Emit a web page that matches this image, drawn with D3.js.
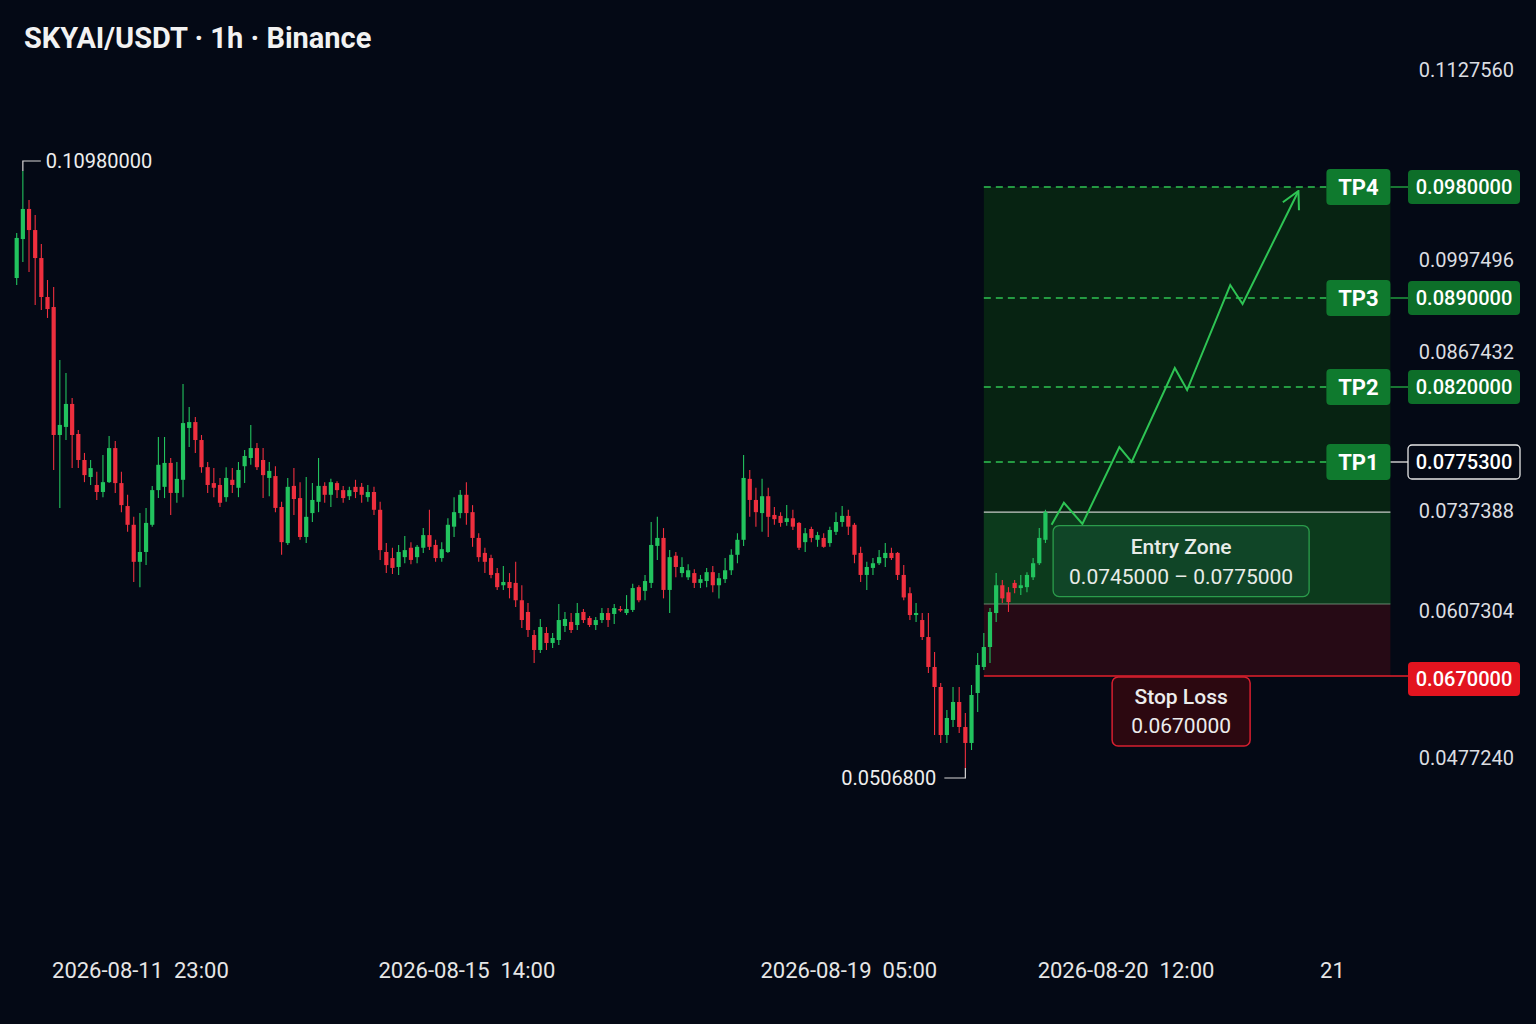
<!DOCTYPE html>
<html>
<head>
<meta charset="utf-8">
<script src="https://cdn.jsdelivr.net/npm/d3@7"></script>
<style>
    html, body { margin: 0; background: #040915; }
    svg { display: block; font-family: Roboto, "Noto Sans", sans-serif; }
</style>
</head>
<body>
<svg id="chart" width="1536" height="1024"></svg>
<script>
// hourly candles, [open, high, low, close]
const ohlc = [
    [0.09062, 0.09427, 0.09005, 0.09387], [0.09378, 0.1098, 0.09192, 0.09622], [0.09622, 0.09695, 0.09111, 0.09451], [0.09451, 0.09573, 0.08845, 0.09224],
    [0.09224, 0.09338, 0.08806, 0.08908], [0.08908, 0.09046, 0.08743, 0.08813], [0.08829, 0.08989, 0.07736, 0.07914], [0.07914, 0.08412, 0.07655, 0.07974],
    [0.07962, 0.08310, 0.07884, 0.08099], [0.08099, 0.08134, 0.07740, 0.07914], [0.07920, 0.07944, 0.07740, 0.07765], [0.07765, 0.07807, 0.07710, 0.07725],
    [0.07721, 0.07765, 0.07704, 0.07740], [0.07704, 0.07732, 0.07672, 0.07689], [0.07689, 0.07795, 0.07678, 0.07710], [0.07710, 0.07908, 0.07708, 0.07836],
    [0.07836, 0.07878, 0.07687, 0.07708], [0.07708, 0.07732, 0.07646, 0.07661], [0.07659, 0.07683, 0.07604, 0.07619], [0.07619, 0.07636, 0.07497, 0.07540],
    [0.07540, 0.07644, 0.07486, 0.07561], [0.07561, 0.07655, 0.07533, 0.07623], [0.07619, 0.07702, 0.07615, 0.07693], [0.07693, 0.07902, 0.07676, 0.07747],
    [0.07700, 0.07902, 0.07676, 0.07751], [0.07751, 0.07777, 0.07640, 0.07687], [0.07687, 0.07753, 0.07666, 0.07717], [0.07715, 0.08224, 0.07678, 0.07985],
    [0.07956, 0.08081, 0.07842, 0.07991], [0.07991, 0.08021, 0.07807, 0.07884], [0.07884, 0.07914, 0.07730, 0.07742], [0.07742, 0.07753, 0.07687, 0.07704],
    [0.07708, 0.07740, 0.07678, 0.07698], [0.07704, 0.07719, 0.07657, 0.07666], [0.07678, 0.07742, 0.07668, 0.07719], [0.07715, 0.07740, 0.07687, 0.07704],
    [0.07698, 0.07753, 0.07678, 0.07736], [0.07744, 0.07825, 0.07708, 0.07789], [0.07777, 0.07974, 0.07747, 0.07836], [0.07836, 0.07866, 0.07736, 0.07742],
    [0.07765, 0.07836, 0.07676, 0.07725], [0.07719, 0.07753, 0.07680, 0.07734], [0.07723, 0.07744, 0.07646, 0.07655], [0.07657, 0.07668, 0.07555, 0.07582],
    [0.07580, 0.07719, 0.07576, 0.07700], [0.07702, 0.07740, 0.07640, 0.07674], [0.07676, 0.07710, 0.07587, 0.07593], [0.07593, 0.07721, 0.07580, 0.07636],
    [0.07644, 0.07708, 0.07625, 0.07672], [0.07668, 0.07777, 0.07646, 0.07702], [0.07702, 0.07710, 0.07666, 0.07683], [0.07683, 0.07717, 0.07657, 0.07710],
    [0.07708, 0.07712, 0.07676, 0.07693], [0.07693, 0.07702, 0.07666, 0.07676], [0.07680, 0.07700, 0.07672, 0.07693], [0.07700, 0.07715, 0.07676, 0.07689],
    [0.07700, 0.07708, 0.07666, 0.07683], [0.07678, 0.07704, 0.07668, 0.07689], [0.07689, 0.07700, 0.07640, 0.07651], [0.07651, 0.07668, 0.07544, 0.07565],
    [0.07561, 0.07580, 0.07516, 0.07533], [0.07548, 0.07570, 0.07514, 0.07527], [0.07529, 0.07576, 0.07512, 0.07561], [0.07550, 0.07595, 0.07537, 0.07565],
    [0.07570, 0.07582, 0.07535, 0.07544], [0.07550, 0.07576, 0.07537, 0.07572], [0.07570, 0.07612, 0.07559, 0.07597], [0.07597, 0.07651, 0.07565, 0.07572],
    [0.07576, 0.07587, 0.07540, 0.07548], [0.07548, 0.07582, 0.07540, 0.07567], [0.07561, 0.07633, 0.07559, 0.07619], [0.07615, 0.07678, 0.07593, 0.07646],
    [0.07644, 0.07693, 0.07633, 0.07683], [0.07683, 0.07710, 0.07619, 0.07644], [0.07646, 0.07661, 0.07572, 0.07591], [0.07591, 0.07601, 0.07540, 0.07550],
    [0.07559, 0.07570, 0.07516, 0.07540], [0.07548, 0.07555, 0.07505, 0.07512], [0.07516, 0.07527, 0.07480, 0.07486], [0.07490, 0.07531, 0.07480, 0.07497],
    [0.07497, 0.07516, 0.07462, 0.07484], [0.07495, 0.07540, 0.07419, 0.07458], [0.07458, 0.07490, 0.07200, 0.07283], [0.07367, 0.07452, 0.07106, 0.07179],
    [0.07127, 0.07179, 0.06835, 0.06971], [0.06971, 0.07294, 0.06940, 0.07210], [0.07148, 0.07210, 0.06971, 0.07044], [0.07044, 0.07148, 0.06992, 0.07096],
    [0.07075, 0.07450, 0.07023, 0.07283], [0.07221, 0.07367, 0.07158, 0.07294], [0.07263, 0.07356, 0.07148, 0.07179], [0.07231, 0.07452, 0.07179, 0.07356],
    [0.07367, 0.07398, 0.07252, 0.07283], [0.07304, 0.07325, 0.07210, 0.07231], [0.07231, 0.07315, 0.07179, 0.07283], [0.07283, 0.07408, 0.07252, 0.07356],
    [0.07356, 0.07408, 0.07210, 0.07283], [0.07346, 0.07450, 0.07242, 0.07408], [0.07398, 0.07430, 0.07367, 0.07388], [0.07356, 0.07469, 0.07335, 0.07398],
    [0.07388, 0.07493, 0.07367, 0.07484], [0.07486, 0.07490, 0.07454, 0.07458], [0.07478, 0.07512, 0.07458, 0.07499], [0.07495, 0.07625, 0.07484, 0.07576],
    [0.07574, 0.07636, 0.07544, 0.07591], [0.07591, 0.07612, 0.07462, 0.07480], [0.07480, 0.07565, 0.07356, 0.07550], [0.07553, 0.07561, 0.07507, 0.07529],
    [0.07516, 0.07550, 0.07507, 0.07529], [0.07507, 0.07535, 0.07501, 0.07522], [0.07516, 0.07524, 0.07484, 0.07495], [0.07495, 0.07512, 0.07484, 0.07503],
    [0.07499, 0.07527, 0.07486, 0.07518], [0.07518, 0.07531, 0.07475, 0.07490], [0.07490, 0.07516, 0.07462, 0.07505], [0.07503, 0.07548, 0.07495, 0.07522],
    [0.07522, 0.07567, 0.07512, 0.07555], [0.07555, 0.07601, 0.07537, 0.07587], [0.07587, 0.07795, 0.07574, 0.07719], [0.07717, 0.07736, 0.07636, 0.07672],
    [0.07672, 0.07698, 0.07615, 0.07646], [0.07644, 0.07717, 0.07604, 0.07680], [0.07680, 0.07698, 0.07593, 0.07636], [0.07640, 0.07657, 0.07619, 0.07631],
    [0.07638, 0.07646, 0.07615, 0.07623], [0.07625, 0.07661, 0.07617, 0.07633], [0.07633, 0.07651, 0.07608, 0.07615], [0.07623, 0.07625, 0.07565, 0.07570],
    [0.07582, 0.07612, 0.07561, 0.07601], [0.07610, 0.07615, 0.07582, 0.07591], [0.07587, 0.07604, 0.07572, 0.07597], [0.07591, 0.07601, 0.07570, 0.07572],
    [0.07580, 0.07615, 0.07572, 0.07608], [0.07604, 0.07646, 0.07597, 0.07625], [0.07625, 0.07659, 0.07615, 0.07638], [0.07638, 0.07651, 0.07597, 0.07615],
    [0.07619, 0.07623, 0.07537, 0.07555], [0.07559, 0.07572, 0.07497, 0.07512], [0.07512, 0.07540, 0.07480, 0.07529], [0.07527, 0.07548, 0.07512, 0.07537],
    [0.07537, 0.07565, 0.07533, 0.07550], [0.07548, 0.07580, 0.07529, 0.07559], [0.07559, 0.07570, 0.07544, 0.07548], [0.07559, 0.07561, 0.07501, 0.07512],
    [0.07512, 0.07533, 0.07458, 0.07464], [0.07473, 0.07486, 0.07283, 0.07335], [0.07335, 0.07452, 0.07263, 0.07356], [0.07283, 0.07356, 0.07075, 0.07106],
    [0.07106, 0.07356, 0.06731, 0.06794], [0.06794, 0.06950, 0.05653, 0.06505], [0.06505, 0.06576, 0.05512, 0.05653], [0.05653, 0.06097, 0.05512, 0.05955],
    [0.05920, 0.06505, 0.05795, 0.06239], [0.06239, 0.06505, 0.05689, 0.05795], [0.05795, 0.06044, 0.05068, 0.05512], [0.05512, 0.06540, 0.05387, 0.06363],
    [0.06398, 0.06940, 0.06061, 0.06815], [0.06794, 0.07148, 0.06763, 0.07002], [0.07002, 0.07408, 0.06835, 0.07367], [0.07356, 0.07516, 0.07263, 0.07490],
    [0.07490, 0.07501, 0.07452, 0.07462], [0.07475, 0.07486, 0.07367, 0.07454], [0.07495, 0.07501, 0.07473, 0.07484], [0.07484, 0.07512, 0.07469, 0.07490],
    [0.07486, 0.07518, 0.07475, 0.07512], [0.07507, 0.07548, 0.07501, 0.07537], [0.07537, 0.07612, 0.07533, 0.07591], [0.07587, 0.07651, 0.07580, 0.07646]
];

const levelNames = ['TP4', 'TP3', 'TP2', 'TP1'];
const levelPrices = [0.0980000, 0.0890000, 0.0820000, 0.0775300];
const entryZone = [0.0745000, 0.0775000];
const stopLoss = 0.0670000;

const axisTicks = [0.1127560, 0.0997496, 0.0867432, 0.0737388, 0.0607304, 0.0477240];
const xTickIdx = [20, 73, 135, 180, 213.5];
const xTickLabels = ['2026-08-11  23:00', '2026-08-15  14:00', '2026-08-19  05:00', '2026-08-20  12:00', '21'];

// projected path (hour index, price)
const projHours = [168, 170, 173, 179, 181, 188, 190, 197, 199, 208];
const projPrices = [0.07619, 0.07666, 0.07621, 0.07842, 0.07753, 0.08349, 0.08182, 0.09005, 0.08853, 0.0976];

const zoneHours = [157, 223];

const up = '#22c35e', down = '#ee2f3e';

const svg = d3.select('#chart');
const highPrice = d3.max(ohlc, d => d[1]);
const lowPrice = d3.min(ohlc, d => d[2]);
const lastPrice = ohlc[ohlc.length - 1][3];

const x = d3.scaleLinear().domain([0, 223]).range([16.7, 1390.4]);
// price scale, piecewise so the trade levels sit where the setup puts them
const y = d3.scaleLinear()
    .domain([lowPrice, stopLoss, entryZone[0], levelPrices[3], levelPrices[2], levelPrices[1], levelPrices[0], highPrice])
    .range([768, 676, 604, 462, 387, 298, 187, 171]);
const axisY = d3.scaleLinear()
    .domain(axisTicks.slice().reverse())
    .range([758, 611, 511, 352, 260, 70]);

svg.append('rect').attr('width', 1536).attr('height', 1024).attr('fill', '#040915');

svg.append('text')
    .attr('x', 24).attr('y', 48)
    .attr('fill', '#f2f2f2')
    .attr('font-size', 29).attr('font-weight', 700)
    .text('SKYAI/USDT · 1h · Binance');

// zones
const zx0 = x(zoneHours[0]), zx1 = x(zoneHours[1]);
svg.append('rect')
    .attr('x', zx0).attr('width', zx1 - zx0)
    .attr('y', y(levelPrices[0])).attr('height', y(entryZone[0]) - y(levelPrices[0]))
    .attr('fill', '#072312');
svg.append('rect')
    .attr('x', zx0).attr('width', zx1 - zx0)
    .attr('y', y(lastPrice)).attr('height', y(entryZone[0]) - y(lastPrice))
    .attr('fill', '#0c3a1c');
svg.append('rect')
    .attr('x', zx0).attr('width', zx1 - zx0)
    .attr('y', y(entryZone[0])).attr('height', y(stopLoss) - y(entryZone[0]))
    .attr('fill', '#260a15');

svg.append('line')
    .attr('x1', zx0).attr('x2', zx1)
    .attr('y1', y(lastPrice)).attr('y2', y(lastPrice))
    .attr('stroke', '#c9cdc9').attr('stroke-width', 1.2);
svg.append('line')
    .attr('x1', zx0).attr('x2', zx1)
    .attr('y1', y(entryZone[0])).attr('y2', y(entryZone[0]))
    .attr('stroke', '#8fae95').attr('stroke-opacity', 0.7).attr('stroke-width', 1);
svg.append('line')
    .attr('x1', zx0).attr('x2', 1408)
    .attr('y1', y(stopLoss)).attr('y2', y(stopLoss))
    .attr('stroke', '#e3202b').attr('stroke-width', 1.6);

svg.append('g').selectAll('line')
    .data(levelPrices)
    .join('line')
    .attr('x1', zx0).attr('x2', zx1 - 64)
    .attr('y1', d => y(d)).attr('y2', d => y(d))
    .attr('stroke', '#2fc353').attr('stroke-width', 1.3)
    .attr('stroke-dasharray', '7,5');

// candles
const candle = svg.append('g').selectAll('g')
    .data(ohlc)
    .join('g');
candle.append('line')
    .attr('x1', (d, i) => x(i)).attr('x2', (d, i) => x(i))
    .attr('y1', d => y(d[1])).attr('y2', d => y(d[2]))
    .attr('stroke', d => d[3] >= d[0] ? up : down)
    .attr('stroke-width', 1.1);
candle.append('rect')
    .attr('x', (d, i) => x(i) - 2.1)
    .attr('width', 4.2)
    .attr('y', d => y(Math.max(d[0], d[3])))
    .attr('height', d => Math.max(1.5, Math.abs(y(d[0]) - y(d[3]))))
    .attr('fill', d => d[3] >= d[0] ? up : down);

// projection arrow
svg.append('defs').append('marker')
    .attr('id', 'arrow')
    .attr('viewBox', '0 0 10 10')
    .attr('refX', 9).attr('refY', 5)
    .attr('markerUnits', 'userSpaceOnUse')
    .attr('markerWidth', 20).attr('markerHeight', 20)
    .attr('orient', 'auto')
    .append('path')
    .attr('d', 'M1,0.5 L9.5,5 L1,9.5')
    .attr('fill', 'none').attr('stroke', '#2ec454').attr('stroke-width', 1);

svg.append('path')
    .datum(d3.zip(projHours, projPrices))
    .attr('d', d3.line().x(d => x(d[0])).y(d => y(d[1])))
    .attr('fill', 'none')
    .attr('stroke', '#2ec454').attr('stroke-width', 2)
    .attr('marker-end', 'url(#arrow)');

// high / low markers
const hi = d3.maxIndex(ohlc, d => d[1]);
const lo = d3.minIndex(ohlc, d => d[2]);
svg.append('path')
    .attr('d', `M${x(hi)},${y(highPrice)} V${y(highPrice) - 10} H${x(hi) + 18}`)
    .attr('fill', 'none').attr('stroke', '#d8d8d8').attr('stroke-width', 1.2);
svg.append('text')
    .attr('x', x(hi) + 23).attr('y', y(highPrice) - 10).attr('dy', '0.35em')
    .attr('fill', '#eeeeee').attr('font-size', 20)
    .text(d3.format('.8f')(highPrice));
svg.append('path')
    .attr('d', `M${x(lo)},${y(lowPrice)} V${y(lowPrice) + 10} H${x(lo) - 21}`)
    .attr('fill', 'none').attr('stroke', '#d8d8d8').attr('stroke-width', 1.2);
svg.append('text')
    .attr('x', x(lo) - 29).attr('y', y(lowPrice) + 10).attr('dy', '0.35em')
    .attr('text-anchor', 'end')
    .attr('fill', '#eeeeee').attr('font-size', 20)
    .text(d3.format('.7f')(lowPrice));

// level badges
const fmt7 = d3.format('.7f');
const levels = levelNames.map((name, i) => ({name: name, price: levelPrices[i], outline: name == 'TP1'}));
const badge = svg.append('g').selectAll('g')
    .data(levels)
    .join('g')
    .attr('transform', d => `translate(0,${y(d.price)})`);
badge.append('line')
    .attr('x1', zx1).attr('x2', 1408)
    .attr('stroke', d => d.outline ? '#c8c8c8' : '#1f9a3e').attr('stroke-width', 1.5);
badge.append('rect')
    .attr('x', zx1 - 64).attr('y', -18).attr('width', 64).attr('height', 36).attr('rx', 4)
    .attr('fill', '#0f7a2e');
badge.append('text')
    .attr('x', zx1 - 32).attr('dy', '0.36em').attr('text-anchor', 'middle')
    .attr('fill', '#ffffff').attr('font-size', 22).attr('font-weight', 700)
    .text(d => d.name);
badge.append('rect')
    .attr('x', 1408).attr('y', -17).attr('width', 112).attr('height', 34).attr('rx', 4)
    .attr('fill', d => d.outline ? '#040915' : '#0d6e29')
    .attr('stroke', d => d.outline ? '#e6e6e6' : 'none').attr('stroke-width', 1.3);
badge.append('text')
    .attr('x', 1464).attr('dy', '0.36em').attr('text-anchor', 'middle')
    .attr('fill', '#ffffff').attr('font-size', 20).attr('font-weight', 500)
    .text(d => fmt7(d.price));

// stop loss badge
svg.append('rect')
    .attr('x', 1408).attr('y', y(stopLoss) - 14).attr('width', 112).attr('height', 34).attr('rx', 4)
    .attr('fill', '#e3141f');
svg.append('text')
    .attr('x', 1464).attr('y', y(stopLoss) + 3).attr('dy', '0.36em').attr('text-anchor', 'middle')
    .attr('fill', '#ffffff').attr('font-size', 20).attr('font-weight', 500)
    .text(fmt7(stopLoss));

// entry zone label
const midX = x(d3.mean(zoneHours)) - 6;
const entryMidY = (y(lastPrice) + y(entryZone[0])) / 2 + 3;
svg.append('rect')
    .attr('x', midX - 128).attr('y', entryMidY - 35.5).attr('width', 256).attr('height', 71).attr('rx', 6)
    .attr('fill', '#12482a').attr('fill-opacity', 0.8)
    .attr('stroke', '#2b9c4b').attr('stroke-width', 1.3);
svg.append('text')
    .attr('x', midX).attr('y', entryMidY - 14).attr('dy', '0.35em').attr('text-anchor', 'middle')
    .attr('fill', '#e8ece8').attr('font-size', 21).attr('font-weight', 500)
    .text('Entry Zone');
svg.append('text')
    .attr('x', midX).attr('y', entryMidY + 16).attr('dy', '0.35em').attr('text-anchor', 'middle')
    .attr('fill', '#e8ece8').attr('font-size', 21)
    .text(`${fmt7(entryZone[0])} – ${fmt7(entryZone[1])}`);

// stop loss label
const slTop = y(stopLoss) + 1;
svg.append('rect')
    .attr('x', midX - 69).attr('y', slTop).attr('width', 138).attr('height', 69).attr('rx', 6)
    .attr('fill', '#2c0810')
    .attr('stroke', '#d61f2f').attr('stroke-width', 1.5);
svg.append('text')
    .attr('x', midX).attr('y', slTop + 20).attr('dy', '0.35em').attr('text-anchor', 'middle')
    .attr('fill', '#ececec').attr('font-size', 21).attr('font-weight', 500)
    .text('Stop Loss');
svg.append('text')
    .attr('x', midX).attr('y', slTop + 49).attr('dy', '0.35em').attr('text-anchor', 'middle')
    .attr('fill', '#ececec').attr('font-size', 21)
    .text(fmt7(stopLoss));

// axes
const yAxis = svg.append('g')
    .attr('transform', 'translate(1514,0)')
    .call(d3.axisLeft(axisY).tickValues(axisTicks).tickFormat(fmt7).tickSize(0).tickPadding(0));
yAxis.select('.domain').remove();
yAxis.attr('font-family', null).attr('font-size', 20);
yAxis.selectAll('text').attr('fill', '#dcdee2');

const xAxis = svg.append('g')
    .attr('transform', 'translate(0,962)')
    .call(d3.axisBottom(x).tickValues(xTickIdx).tickFormat((d, i) => xTickLabels[i]).tickSize(0).tickPadding(0));
xAxis.select('.domain').remove();
xAxis.attr('font-family', null).attr('font-size', 22);
xAxis.selectAll('text').attr('fill', '#e6e6e6').style('white-space', 'pre');
</script>
</body>
</html>
